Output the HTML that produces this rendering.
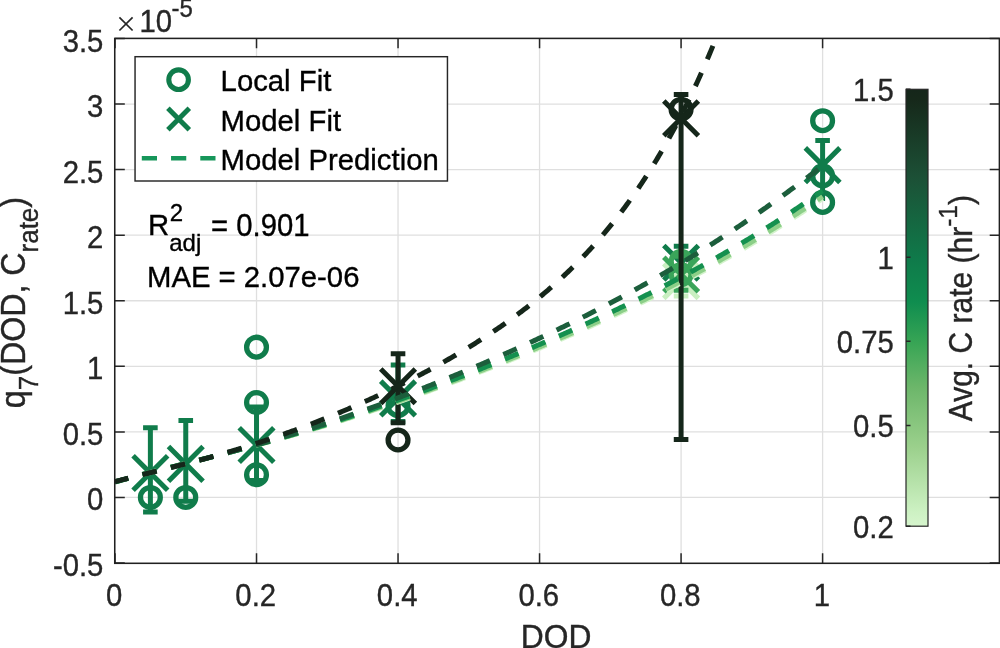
<!DOCTYPE html><html><head><meta charset="utf-8"><style>html,body{margin:0;padding:0;background:#fff;overflow:hidden}svg{display:block;will-change:transform}</style></head><body>
<svg width="1000" height="648" viewBox="0 0 1000 648" style='font-family:"Liberation Sans", sans-serif'>
<rect width="1000" height="648" fill="#fff"/>
<defs><clipPath id="ax"><rect x="115.00" y="38.50" width="884.50" height="524.50"/></clipPath>
<linearGradient id="cm" x1="0" y1="89.3" x2="0" y2="526.2" gradientUnits="userSpaceOnUse">
<stop offset="0.0016" stop-color="#15261a"/>
<stop offset="0.0222" stop-color="#16281a"/>
<stop offset="0.2007" stop-color="#1c5036"/>
<stop offset="0.3884" stop-color="#0f7a4a"/>
<stop offset="0.4868" stop-color="#0f8d4f"/>
<stop offset="0.5807" stop-color="#38a555"/>
<stop offset="0.6814" stop-color="#6cb66a"/>
<stop offset="0.8187" stop-color="#9bd08c"/>
<stop offset="0.9675" stop-color="#cdf1c3"/>
<stop offset="0.9995" stop-color="#d6f5cd"/>
</linearGradient></defs>
<path d="M256.52 38.50V563.00M398.04 38.50V563.00M539.56 38.50V563.00M681.08 38.50V563.00M822.60 38.50V563.00M115.00 497.44H999.50M115.00 431.88H999.50M115.00 366.31H999.50M115.00 300.75H999.50M115.00 235.19H999.50M115.00 169.62H999.50M115.00 104.06H999.50" stroke="#dfdfdf" stroke-width="1.3" fill="none"/>
<g clip-path="url(#ax)">
<path d="M150.38 427.81V511.99M143.08 511.99h14.6M143.08 427.81h14.6" stroke="#107c4b" stroke-width="5.0" fill="none"/>
<circle cx="150.38" cy="497.44" r="9.90" stroke="#107c4b" stroke-width="5.3" fill="none"/>
<path d="M133.08 455.75l34.6 34.6M133.08 490.35l34.6 -34.6" stroke="#107c4b" stroke-width="5.0" fill="none"/>
<path d="M185.76 420.47V501.37M178.46 501.37h14.6M178.46 420.47h14.6" stroke="#107c4b" stroke-width="5.0" fill="none"/>
<circle cx="185.76" cy="497.44" r="9.90" stroke="#107c4b" stroke-width="5.3" fill="none"/>
<path d="M168.46 446.57l34.6 34.6M168.46 481.17l34.6 -34.6" stroke="#107c4b" stroke-width="5.0" fill="none"/>
<path d="M256.52 406.96V480.52M249.22 480.52h14.6M249.22 406.96h14.6" stroke="#107c4b" stroke-width="5.0" fill="none"/>
<circle cx="256.52" cy="347.17" r="9.90" stroke="#107c4b" stroke-width="5.3" fill="none"/>
<circle cx="256.52" cy="402.50" r="9.90" stroke="#107c4b" stroke-width="5.3" fill="none"/>
<circle cx="256.52" cy="474.75" r="9.90" stroke="#107c4b" stroke-width="5.3" fill="none"/>
<path d="M239.22 427.69l34.6 34.6M239.22 462.29l34.6 -34.6" stroke="#107c4b" stroke-width="5.0" fill="none"/>
<path d="M398.04 365.00V421.38M390.74 421.38h14.6M390.74 365.00h14.6" stroke="#107c4b" stroke-width="5.0" fill="none"/>
<circle cx="398.04" cy="405.65" r="9.90" stroke="#107c4b" stroke-width="5.3" fill="none"/>
<path d="M380.74 381.14l34.6 34.6M380.74 415.74l34.6 -34.6" stroke="#107c4b" stroke-width="5.0" fill="none"/>
<path d="M822.60 140.38V201.10M815.30 140.38h14.6" stroke="#107c4b" stroke-width="5.0" fill="none"/>
<circle cx="822.60" cy="120.72" r="9.90" stroke="#107c4b" stroke-width="5.3" fill="none"/>
<circle cx="822.60" cy="175.92" r="9.90" stroke="#107c4b" stroke-width="5.3" fill="none"/>
<circle cx="822.60" cy="202.41" r="9.90" stroke="#107c4b" stroke-width="5.3" fill="none"/>
<path d="M805.30 147.87l34.6 34.6M805.30 182.47l34.6 -34.6" stroke="#107c4b" stroke-width="5.0" fill="none"/>
<path d="M681.08 266.66V296.03M673.78 296.03h14.6M673.78 266.66h14.6" stroke="#c9efc1" stroke-width="5.0" fill="none"/>
<path d="M663.78 263.78l34.6 34.6M663.78 298.38l34.6 -34.6" stroke="#c9efc1" stroke-width="5.0" fill="none"/>
<path d="M681.08 246.33V281.08M673.78 246.33h14.6" stroke="#107c4b" stroke-width="5.0" fill="none"/>
<path d="M663.78 245.42l34.6 34.6M663.78 280.02l34.6 -34.6" stroke="#107c4b" stroke-width="5.0" fill="none"/>
<path d="M681.08 256.17V290.26M673.78 290.26h14.6M673.78 256.17h14.6" stroke="#3aa55a" stroke-width="5.0" fill="none"/>
<circle cx="681.08" cy="261.41" r="9.90" stroke="#3aa55a" stroke-width="5.3" fill="none"/>
<circle cx="681.08" cy="274.52" r="9.90" stroke="#3aa55a" stroke-width="5.3" fill="none"/>
<path d="M663.78 257.22l34.6 34.6M663.78 291.82l34.6 -34.6" stroke="#3aa55a" stroke-width="5.0" fill="none"/>
<path d="M398.04 353.72V422.83M390.74 422.83h14.6M390.74 353.72h14.6" stroke="#15261a" stroke-width="5.0" fill="none"/>
<circle cx="398.04" cy="440.00" r="9.90" stroke="#15261a" stroke-width="5.3" fill="none"/>
<path d="M380.74 368.94l34.6 34.6M380.74 403.54l34.6 -34.6" stroke="#15261a" stroke-width="5.0" fill="none"/>
<path d="M681.08 94.62V439.61M673.78 439.61h14.6M673.78 94.62h14.6" stroke="#15261a" stroke-width="5.0" fill="none"/>
<circle cx="681.08" cy="109.18" r="9.90" stroke="#15261a" stroke-width="5.3" fill="none"/>
<path d="M663.78 101.06l34.6 34.6M663.78 135.66l34.6 -34.6" stroke="#15261a" stroke-width="5.0" fill="none"/>
<path d="M115.00 481.92 116.42 481.53 117.84 481.13 119.25 480.74 120.67 480.35 122.09 479.96 123.51 479.57 124.93 479.19 126.34 478.80 127.76 478.42 129.18 478.04 130.60 477.66 132.02 477.28 133.43 476.90 134.85 476.52 136.27 476.15 137.69 475.78 139.11 475.40 140.52 475.03 141.94 474.66 143.36 474.29 144.78 473.92 146.20 473.56 147.61 473.19 149.03 472.82 150.45 472.46 151.87 472.09 153.29 471.73 154.71 471.37 156.12 471.00 157.54 470.64 158.96 470.28 160.38 469.92 161.80 469.56 163.21 469.20 164.63 468.84 166.05 468.48 167.47 468.12 168.89 467.76 170.30 467.40 171.72 467.04 173.14 466.68 174.56 466.33 175.98 465.97 177.39 465.61 178.81 465.25 180.23 464.89 181.65 464.54 183.07 464.18 184.48 463.82 185.90 463.46 187.32 463.10 188.74 462.74 190.16 462.39 191.57 462.03 192.99 461.67 194.41 461.31 195.83 460.95 197.25 460.59 198.66 460.23 200.08 459.87 201.50 459.50 202.92 459.14 204.34 458.78 205.75 458.42 207.17 458.06 208.59 457.69 210.01 457.33 211.43 456.96 212.84 456.60 214.26 456.23 215.68 455.87 217.10 455.50 218.52 455.13 219.93 454.76 221.35 454.39 222.77 454.02 224.19 453.65 225.61 453.28 227.02 452.91 228.44 452.54 229.86 452.16 231.28 451.79 232.70 451.41 234.12 451.04 235.53 450.66 236.95 450.28 238.37 449.91 239.79 449.53 241.21 449.15 242.62 448.76 244.04 448.38 245.46 448.00 246.88 447.62 248.30 447.23 249.71 446.84 251.13 446.47 252.55 446.10 253.97 445.73 255.39 445.36 256.80 444.98 258.22 444.61 259.64 444.23 261.06 443.86 262.48 443.48 263.89 443.10 265.31 442.72 266.73 442.34 268.15 441.96 269.57 441.58 270.98 441.19 272.40 440.81 273.82 440.42 275.24 440.03 276.66 439.64 278.07 439.25 279.49 438.86 280.91 438.47 282.33 438.08 283.75 437.68 285.16 437.29 286.58 436.89 288.00 436.49 289.42 436.10 290.84 435.70 292.25 435.29 293.67 434.89 295.09 434.49 296.51 434.08 297.93 433.68 299.34 433.27 300.76 432.86 302.18 432.45 303.60 432.04 305.02 431.63 306.43 431.22 307.85 430.80 309.27 430.39 310.69 429.97 312.11 429.55 313.53 429.13 314.94 428.71 316.36 428.29 317.78 427.87 319.20 427.45 320.62 427.02 322.03 426.60 323.45 426.17 324.87 425.74 326.29 425.31 327.71 424.88 329.12 424.45 330.54 424.01 331.96 423.58 333.38 423.14 334.80 422.70 336.21 422.27 337.63 421.83 339.05 421.39 340.47 420.94 341.89 420.50 343.30 420.06 344.72 419.61 346.14 419.16 347.56 418.72 348.98 418.27 350.39 417.82 351.81 417.37 353.23 416.91 354.65 416.46 356.07 416.00 357.48 415.55 358.90 415.09 360.32 414.63 361.74 414.17 363.16 413.71 364.57 413.25 365.99 412.79 367.41 412.32 368.83 411.86 370.25 411.39 371.66 410.92 373.08 410.45 374.50 409.98 375.92 409.51 377.34 409.04 378.75 408.57 380.17 408.09 381.59 407.62 383.01 407.14 384.43 406.66 385.84 406.18 387.26 405.70 388.68 405.22 390.10 404.74 391.52 404.25 392.94 403.77 394.35 403.28 395.77 402.79 397.19 402.31 398.61 401.82 400.03 401.33 401.44 400.84 402.86 400.34 404.28 399.85 405.70 399.35 407.12 398.86 408.53 398.36 409.95 397.86 411.37 397.36 412.79 396.86 414.21 396.36 415.62 395.86 417.04 395.36 418.46 394.85 419.88 394.35 421.30 393.84 422.71 393.33 424.13 392.82 425.55 392.31 426.97 391.80 428.39 391.29 429.80 390.78 431.22 390.27 432.64 389.75 434.06 389.24 435.48 388.73 436.89 388.21 438.31 387.69 439.73 387.18 441.15 386.66 442.57 386.14 443.98 385.62 445.40 385.10 446.82 384.57 448.24 384.05 449.66 383.52 451.07 383.00 452.49 382.47 453.91 381.94 455.33 381.42 456.75 380.89 458.16 380.35 459.58 379.82 461.00 379.29 462.42 378.76 463.84 378.22 465.25 377.69 466.67 377.15 468.09 376.61 469.51 376.07 470.93 375.53 472.35 374.99 473.76 374.45 475.18 373.91 476.60 373.36 478.02 372.82 479.44 372.27 480.85 371.72 482.27 371.18 483.69 370.63 485.11 370.08 486.53 369.53 487.94 368.97 489.36 368.42 490.78 367.87 492.20 367.31 493.62 366.76 495.03 366.20 496.45 365.64 497.87 365.08 499.29 364.52 500.71 363.96 502.12 363.40 503.54 362.84 504.96 362.27 506.38 361.71 507.80 361.14 509.21 360.58 510.63 360.01 512.05 359.44 513.47 358.87 514.89 358.30 516.30 357.73 517.72 357.15 519.14 356.58 520.56 356.00 521.98 355.43 523.39 354.85 524.81 354.27 526.23 353.69 527.65 353.11 529.07 352.53 530.48 351.95 531.90 351.36 533.32 350.78 534.74 350.19 536.16 349.61 537.57 349.02 538.99 348.43 540.41 347.84 541.83 347.25 543.25 346.66 544.66 346.06 546.08 345.47 547.50 344.87 548.92 344.28 550.34 343.68 551.76 343.08 553.17 342.48 554.59 341.88 556.01 341.28 557.43 340.67 558.85 340.07 560.26 339.46 561.68 338.86 563.10 338.25 564.52 337.64 565.94 337.03 567.35 336.42 568.77 335.81 570.19 335.19 571.61 334.58 573.03 333.96 574.44 333.34 575.86 332.73 577.28 332.11 578.70 331.48 580.12 330.86 581.53 330.24 582.95 329.61 584.37 328.99 585.79 328.36 587.21 327.73 588.62 327.10 590.04 326.47 591.46 325.84 592.88 325.21 594.30 324.57 595.71 323.94 597.13 323.30 598.55 322.66 599.97 322.02 601.39 321.38 602.80 320.73 604.22 320.09 605.64 319.44 607.06 318.80 608.48 318.15 609.89 317.50 611.31 316.85 612.73 316.20 614.15 315.54 615.57 314.89 616.98 314.23 618.40 313.57 619.82 312.91 621.24 312.25 622.66 311.59 624.07 310.92 625.49 310.26 626.91 309.59 628.33 308.92 629.75 308.25 631.17 307.58 632.58 306.91 634.00 306.23 635.42 305.56 636.84 304.88 638.26 304.20 639.67 303.52 641.09 302.84 642.51 302.15 643.93 301.47 645.35 300.78 646.76 300.09 648.18 299.40 649.60 298.71 651.02 298.01 652.44 297.32 653.85 296.62 655.27 295.92 656.69 295.22 658.11 294.52 659.53 293.81 660.94 293.11 662.36 292.40 663.78 291.69 665.20 290.98 666.62 290.26 668.03 289.55 669.45 288.83 670.87 288.11 672.29 287.39 673.71 286.67 675.12 285.95 676.54 285.22 677.96 284.49 679.38 283.76 680.80 283.03 682.21 282.30 683.63 281.56 685.05 280.83 686.47 280.09 687.89 279.34 689.30 278.60 690.72 277.86 692.14 277.11 693.56 276.36 694.98 275.61 696.39 274.86 697.81 274.10 699.23 273.34 700.65 272.58 702.07 271.82 703.48 271.06 704.90 270.29 706.32 269.53 707.74 268.76 709.16 267.98 710.58 267.21 711.99 266.43 713.41 265.66 714.83 264.88 716.25 264.09 717.67 263.31 719.08 262.52 720.50 261.73 721.92 260.94 723.34 260.15 724.76 259.35 726.17 258.55 727.59 257.75 729.01 256.95 730.43 256.15 731.85 255.34 733.26 254.53 734.68 253.72 736.10 252.90 737.52 252.09 738.94 251.27 740.35 250.45 741.77 249.62 743.19 248.80 744.61 247.97 746.03 247.14 747.44 246.31 748.86 245.47 750.28 244.63 751.70 243.79 753.12 242.95 754.53 242.10 755.95 241.26 757.37 240.41 758.79 239.55 760.21 238.70 761.62 237.84 763.04 236.98 764.46 236.12 765.88 235.25 767.30 234.39 768.71 233.52 770.13 232.64 771.55 231.77 772.97 230.89 774.39 230.01 775.80 229.13 777.22 228.24 778.64 227.36 780.06 226.47 781.48 225.57 782.89 224.68 784.31 223.78 785.73 222.88 787.15 221.97 788.57 221.07 789.99 220.16 791.40 219.25 792.82 218.33 794.24 217.42 795.66 216.50 797.08 215.58 798.49 214.65 799.91 213.73 801.33 212.80 802.75 211.86 804.17 210.93 805.58 209.99 807.00 209.05 808.42 208.11 809.84 207.16 811.26 206.21 812.67 205.26 814.09 204.31 815.51 203.35 816.93 202.39 818.35 201.43 819.76 200.46 821.18 199.50 822.60 198.53" stroke="#d3f3cb" stroke-width="5.0" fill="none" stroke-dasharray="14.6 14.7" stroke-dashoffset="0.9"/>
<path d="M115.00 481.92 116.42 481.53 117.84 481.13 119.25 480.74 120.67 480.35 122.09 479.96 123.51 479.57 124.93 479.19 126.34 478.80 127.76 478.42 129.18 478.04 130.60 477.66 132.02 477.28 133.43 476.90 134.85 476.52 136.27 476.15 137.69 475.78 139.11 475.40 140.52 475.03 141.94 474.66 143.36 474.29 144.78 473.92 146.20 473.56 147.61 473.19 149.03 472.82 150.45 472.46 151.87 472.09 153.29 471.73 154.71 471.37 156.12 471.00 157.54 470.64 158.96 470.28 160.38 469.92 161.80 469.56 163.21 469.20 164.63 468.84 166.05 468.48 167.47 468.12 168.89 467.76 170.30 467.40 171.72 467.04 173.14 466.68 174.56 466.33 175.98 465.97 177.39 465.61 178.81 465.25 180.23 464.89 181.65 464.54 183.07 464.18 184.48 463.82 185.90 463.46 187.32 463.10 188.74 462.74 190.16 462.39 191.57 462.03 192.99 461.67 194.41 461.31 195.83 460.95 197.25 460.59 198.66 460.23 200.08 459.87 201.50 459.50 202.92 459.14 204.34 458.78 205.75 458.42 207.17 458.06 208.59 457.69 210.01 457.33 211.43 456.96 212.84 456.60 214.26 456.23 215.68 455.87 217.10 455.50 218.52 455.13 219.93 454.76 221.35 454.39 222.77 454.02 224.19 453.65 225.61 453.28 227.02 452.91 228.44 452.54 229.86 452.16 231.28 451.79 232.70 451.41 234.12 451.04 235.53 450.66 236.95 450.28 238.37 449.91 239.79 449.53 241.21 449.15 242.62 448.76 244.04 448.38 245.46 448.00 246.88 447.62 248.30 447.23 249.71 446.84 251.13 446.47 252.55 446.09 253.97 445.71 255.39 445.33 256.80 444.95 258.22 444.57 259.64 444.19 261.06 443.80 262.48 443.42 263.89 443.03 265.31 442.64 266.73 442.26 268.15 441.87 269.57 441.48 270.98 441.09 272.40 440.69 273.82 440.30 275.24 439.91 276.66 439.51 278.07 439.11 279.49 438.72 280.91 438.32 282.33 437.92 283.75 437.52 285.16 437.11 286.58 436.71 288.00 436.30 289.42 435.90 290.84 435.49 292.25 435.08 293.67 434.67 295.09 434.26 296.51 433.85 297.93 433.44 299.34 433.02 300.76 432.61 302.18 432.19 303.60 431.77 305.02 431.36 306.43 430.94 307.85 430.51 309.27 430.09 310.69 429.67 312.11 429.24 313.53 428.82 314.94 428.39 316.36 427.96 317.78 427.53 319.20 427.10 320.62 426.67 322.03 426.24 323.45 425.80 324.87 425.36 326.29 424.93 327.71 424.49 329.12 424.05 330.54 423.61 331.96 423.17 333.38 422.73 334.80 422.28 336.21 421.84 337.63 421.39 339.05 420.94 340.47 420.49 341.89 420.04 343.30 419.59 344.72 419.14 346.14 418.68 347.56 418.23 348.98 417.77 350.39 417.32 351.81 416.86 353.23 416.40 354.65 415.94 356.07 415.47 357.48 415.01 358.90 414.55 360.32 414.08 361.74 413.61 363.16 413.15 364.57 412.68 365.99 412.21 367.41 411.74 368.83 411.26 370.25 410.79 371.66 410.31 373.08 409.84 374.50 409.36 375.92 408.88 377.34 408.40 378.75 407.92 380.17 407.44 381.59 406.96 383.01 406.47 384.43 405.99 385.84 405.50 387.26 405.01 388.68 404.53 390.10 404.04 391.52 403.55 392.94 403.05 394.35 402.56 395.77 402.07 397.19 401.57 398.61 401.07 400.03 400.58 401.44 400.08 402.86 399.58 404.28 399.08 405.70 398.58 407.12 398.07 408.53 397.57 409.95 397.06 411.37 396.56 412.79 396.05 414.21 395.54 415.62 395.03 417.04 394.52 418.46 394.01 419.88 393.50 421.30 392.98 422.71 392.47 424.13 391.95 425.55 391.44 426.97 390.92 428.39 390.40 429.80 389.88 431.22 389.36 432.64 388.85 434.06 388.33 435.48 387.81 436.89 387.29 438.31 386.77 439.73 386.25 441.15 385.72 442.57 385.20 443.98 384.68 445.40 384.15 446.82 383.62 448.24 383.10 449.66 382.57 451.07 382.04 452.49 381.50 453.91 380.97 455.33 380.44 456.75 379.91 458.16 379.37 459.58 378.83 461.00 378.30 462.42 377.76 463.84 377.22 465.25 376.68 466.67 376.14 468.09 375.60 469.51 375.05 470.93 374.51 472.35 373.96 473.76 373.42 475.18 372.87 476.60 372.32 478.02 371.77 479.44 371.22 480.85 370.67 482.27 370.12 483.69 369.57 485.11 369.01 486.53 368.46 487.94 367.90 489.36 367.34 490.78 366.79 492.20 366.23 493.62 365.67 495.03 365.11 496.45 364.54 497.87 363.98 499.29 363.42 500.71 362.85 502.12 362.28 503.54 361.72 504.96 361.15 506.38 360.58 507.80 360.01 509.21 359.44 510.63 358.87 512.05 358.29 513.47 357.72 514.89 357.14 516.30 356.57 517.72 355.99 519.14 355.41 520.56 354.83 521.98 354.25 523.39 353.67 524.81 353.09 526.23 352.50 527.65 351.92 529.07 351.33 530.48 350.75 531.90 350.16 533.32 349.57 534.74 348.98 536.16 348.39 537.57 347.80 538.99 347.20 540.41 346.61 541.83 346.01 543.25 345.42 544.66 344.82 546.08 344.22 547.50 343.62 548.92 343.02 550.34 342.42 551.76 341.82 553.17 341.21 554.59 340.61 556.01 340.00 557.43 339.39 558.85 338.78 560.26 338.17 561.68 337.56 563.10 336.95 564.52 336.34 565.94 335.72 567.35 335.11 568.77 334.49 570.19 333.87 571.61 333.25 573.03 332.63 574.44 332.01 575.86 331.39 577.28 330.76 578.70 330.14 580.12 329.51 581.53 328.88 582.95 328.26 584.37 327.63 585.79 326.99 587.21 326.36 588.62 325.73 590.04 325.09 591.46 324.46 592.88 323.82 594.30 323.18 595.71 322.54 597.13 321.90 598.55 321.25 599.97 320.61 601.39 319.96 602.80 319.32 604.22 318.67 605.64 318.02 607.06 317.37 608.48 316.71 609.89 316.06 611.31 315.40 612.73 314.75 614.15 314.09 615.57 313.43 616.98 312.77 618.40 312.11 619.82 311.44 621.24 310.78 622.66 310.11 624.07 309.44 625.49 308.77 626.91 308.10 628.33 307.43 629.75 306.75 631.17 306.08 632.58 305.40 634.00 304.72 635.42 304.04 636.84 303.36 638.26 302.67 639.67 301.99 641.09 301.30 642.51 300.61 643.93 299.92 645.35 299.23 646.76 298.54 648.18 297.84 649.60 297.15 651.02 296.45 652.44 295.75 653.85 295.05 655.27 294.34 656.69 293.64 658.11 292.93 659.53 292.22 660.94 291.51 662.36 290.80 663.78 290.09 665.20 289.37 666.62 288.65 668.03 287.93 669.45 287.21 670.87 286.49 672.29 285.77 673.71 285.04 675.12 284.31 676.54 283.58 677.96 282.85 679.38 282.11 680.80 281.38 682.21 280.64 683.63 279.90 685.05 279.16 686.47 278.42 687.89 277.67 689.30 276.92 690.72 276.17 692.14 275.42 693.56 274.67 694.98 273.91 696.39 273.16 697.81 272.40 699.23 271.64 700.65 270.87 702.07 270.11 703.48 269.34 704.90 268.57 706.32 267.80 707.74 267.02 709.16 266.25 710.58 265.47 711.99 264.69 713.41 263.91 714.83 263.12 716.25 262.33 717.67 261.55 719.08 260.75 720.50 259.96 721.92 259.17 723.34 258.37 724.76 257.57 726.17 256.76 727.59 255.96 729.01 255.15 730.43 254.34 731.85 253.53 733.26 252.72 734.68 251.90 736.10 251.08 737.52 250.26 738.94 249.44 740.35 248.62 741.77 247.79 743.19 246.96 744.61 246.13 746.03 245.29 747.44 244.45 748.86 243.61 750.28 242.77 751.70 241.93 753.12 241.08 754.53 240.23 755.95 239.38 757.37 238.52 758.79 237.67 760.21 236.81 761.62 235.95 763.04 235.08 764.46 234.22 765.88 233.35 767.30 232.48 768.71 231.60 770.13 230.72 771.55 229.84 772.97 228.96 774.39 228.08 775.80 227.19 777.22 226.30 778.64 225.41 780.06 224.52 781.48 223.62 782.89 222.72 784.31 221.82 785.73 220.91 787.15 220.00 788.57 219.09 789.99 218.18 791.40 217.26 792.82 216.35 794.24 215.43 795.66 214.50 797.08 213.58 798.49 212.65 799.91 211.72 801.33 210.78 802.75 209.84 804.17 208.91 805.58 207.96 807.00 207.02 808.42 206.07 809.84 205.12 811.26 204.17 812.67 203.21 814.09 202.25 815.51 201.29 816.93 200.33 818.35 199.36 819.76 198.39 821.18 197.42 822.60 196.45" stroke="#8ccf88" stroke-width="5.0" fill="none" stroke-dasharray="14.6 14.7" stroke-dashoffset="0.9"/>
<path d="M115.00 481.92 116.42 481.53 117.84 481.13 119.25 480.74 120.67 480.35 122.09 479.96 123.51 479.57 124.93 479.19 126.34 478.80 127.76 478.42 129.18 478.04 130.60 477.66 132.02 477.28 133.43 476.90 134.85 476.52 136.27 476.15 137.69 475.78 139.11 475.40 140.52 475.03 141.94 474.66 143.36 474.29 144.78 473.92 146.20 473.56 147.61 473.19 149.03 472.82 150.45 472.46 151.87 472.09 153.29 471.73 154.71 471.37 156.12 471.00 157.54 470.64 158.96 470.28 160.38 469.92 161.80 469.56 163.21 469.20 164.63 468.84 166.05 468.48 167.47 468.12 168.89 467.76 170.30 467.40 171.72 467.04 173.14 466.68 174.56 466.33 175.98 465.97 177.39 465.61 178.81 465.25 180.23 464.89 181.65 464.54 183.07 464.18 184.48 463.82 185.90 463.46 187.32 463.10 188.74 462.74 190.16 462.39 191.57 462.03 192.99 461.67 194.41 461.31 195.83 460.95 197.25 460.59 198.66 460.23 200.08 459.87 201.50 459.50 202.92 459.14 204.34 458.78 205.75 458.42 207.17 458.06 208.59 457.69 210.01 457.33 211.43 456.96 212.84 456.60 214.26 456.23 215.68 455.87 217.10 455.50 218.52 455.13 219.93 454.76 221.35 454.39 222.77 454.02 224.19 453.65 225.61 453.28 227.02 452.91 228.44 452.54 229.86 452.16 231.28 451.79 232.70 451.41 234.12 451.04 235.53 450.66 236.95 450.28 238.37 449.91 239.79 449.53 241.21 449.15 242.62 448.76 244.04 448.38 245.46 448.00 246.88 447.62 248.30 447.23 249.71 446.84 251.13 446.46 252.55 446.07 253.97 445.68 255.39 445.29 256.80 444.90 258.22 444.51 259.64 444.12 261.06 443.72 262.48 443.33 263.89 442.93 265.31 442.53 266.73 442.14 268.15 441.74 269.57 441.34 270.98 440.93 272.40 440.53 273.82 440.13 275.24 439.72 276.66 439.32 278.07 438.91 279.49 438.50 280.91 438.09 282.33 437.68 283.75 437.27 285.16 436.86 286.58 436.44 288.00 436.03 289.42 435.61 290.84 435.20 292.25 434.78 293.67 434.36 295.09 433.94 296.51 433.52 297.93 433.09 299.34 432.67 300.76 432.24 302.18 431.82 303.60 431.39 305.02 430.96 306.43 430.53 307.85 430.10 309.27 429.66 310.69 429.23 312.11 428.79 313.53 428.36 314.94 427.92 316.36 427.48 317.78 427.04 319.20 426.60 320.62 426.16 322.03 425.71 323.45 425.27 324.87 424.82 326.29 424.38 327.71 423.93 329.12 423.48 330.54 423.03 331.96 422.58 333.38 422.12 334.80 421.67 336.21 421.21 337.63 420.76 339.05 420.30 340.47 419.84 341.89 419.38 343.30 418.92 344.72 418.45 346.14 417.99 347.56 417.52 348.98 417.06 350.39 416.59 351.81 416.12 353.23 415.65 354.65 415.18 356.07 414.71 357.48 414.23 358.90 413.76 360.32 413.28 361.74 412.81 363.16 412.33 364.57 411.85 365.99 411.37 367.41 410.89 368.83 410.40 370.25 409.92 371.66 409.44 373.08 408.95 374.50 408.46 375.92 407.97 377.34 407.48 378.75 406.99 380.17 406.50 381.59 406.01 383.01 405.51 384.43 405.02 385.84 404.52 387.26 404.02 388.68 403.52 390.10 403.02 391.52 402.52 392.94 402.02 394.35 401.52 395.77 401.01 397.19 400.51 398.61 400.00 400.03 399.49 401.44 398.98 402.86 398.47 404.28 397.96 405.70 397.45 407.12 396.94 408.53 396.42 409.95 395.91 411.37 395.39 412.79 394.87 414.21 394.36 415.62 393.84 417.04 393.32 418.46 392.79 419.88 392.27 421.30 391.75 422.71 391.22 424.13 390.70 425.55 390.17 426.97 389.64 428.39 389.11 429.80 388.58 431.22 388.05 432.64 387.52 434.06 386.98 435.48 386.45 436.89 385.91 438.31 385.38 439.73 384.84 441.15 384.30 442.57 383.76 443.98 383.22 445.40 382.68 446.82 382.14 448.24 381.59 449.66 381.05 451.07 380.50 452.49 379.96 453.91 379.41 455.33 378.86 456.75 378.31 458.16 377.76 459.58 377.21 461.00 376.66 462.42 376.10 463.84 375.55 465.25 374.99 466.67 374.44 468.09 373.88 469.51 373.32 470.93 372.76 472.35 372.20 473.76 371.64 475.18 371.07 476.60 370.51 478.02 369.95 479.44 369.38 480.85 368.81 482.27 368.24 483.69 367.68 485.11 367.11 486.53 366.54 487.94 365.96 489.36 365.39 490.78 364.82 492.20 364.24 493.62 363.67 495.03 363.09 496.45 362.51 497.87 361.93 499.29 361.35 500.71 360.77 502.12 360.19 503.54 359.61 504.96 359.02 506.38 358.44 507.80 357.85 509.21 357.27 510.63 356.68 512.05 356.09 513.47 355.50 514.89 354.91 516.30 354.32 517.72 353.72 519.14 353.13 520.56 352.54 521.98 351.94 523.39 351.34 524.81 350.74 526.23 350.14 527.65 349.54 529.07 348.94 530.48 348.34 531.90 347.74 533.32 347.13 534.74 346.53 536.16 345.92 537.57 345.31 538.99 344.70 540.41 344.09 541.83 343.48 543.25 342.87 544.66 342.26 546.08 341.64 547.50 341.03 548.92 340.41 550.34 339.79 551.76 339.18 553.17 338.56 554.59 337.94 556.01 337.31 557.43 336.69 558.85 336.07 560.26 335.44 561.68 334.81 563.10 334.19 564.52 333.56 565.94 332.93 567.35 332.30 568.77 331.66 570.19 331.03 571.61 330.39 573.03 329.76 574.44 329.12 575.86 328.48 577.28 327.84 578.70 327.20 580.12 326.56 581.53 325.92 582.95 325.27 584.37 324.63 585.79 323.98 587.21 323.33 588.62 322.68 590.04 322.03 591.46 321.38 592.88 320.73 594.30 320.07 595.71 319.42 597.13 318.76 598.55 318.10 599.97 317.44 601.39 316.78 602.80 316.11 604.22 315.45 605.64 314.79 607.06 314.12 608.48 313.45 609.89 312.78 611.31 312.11 612.73 311.44 614.15 310.76 615.57 310.09 616.98 309.41 618.40 308.73 619.82 308.05 621.24 307.37 622.66 306.69 624.07 306.01 625.49 305.32 626.91 304.63 628.33 303.95 629.75 303.26 631.17 302.56 632.58 301.87 634.00 301.18 635.42 300.48 636.84 299.78 638.26 299.08 639.67 298.38 641.09 297.68 642.51 296.98 643.93 296.27 645.35 295.56 646.76 294.85 648.18 294.14 649.60 293.43 651.02 292.72 652.44 292.00 653.85 291.28 655.27 290.57 656.69 289.84 658.11 289.12 659.53 288.40 660.94 287.67 662.36 286.94 663.78 286.21 665.20 285.48 666.62 284.75 668.03 284.02 669.45 283.28 670.87 282.54 672.29 281.80 673.71 281.06 675.12 280.31 676.54 279.57 677.96 278.82 679.38 278.07 680.80 277.32 682.21 276.57 683.63 275.81 685.05 275.05 686.47 274.30 687.89 273.53 689.30 272.77 690.72 272.01 692.14 271.24 693.56 270.47 694.98 269.70 696.39 268.93 697.81 268.15 699.23 267.37 700.65 266.59 702.07 265.81 703.48 265.03 704.90 264.24 706.32 263.46 707.74 262.67 709.16 261.88 710.58 261.08 711.99 260.29 713.41 259.49 714.83 258.69 716.25 257.89 717.67 257.08 719.08 256.27 720.50 255.47 721.92 254.65 723.34 253.84 724.76 253.02 726.17 252.21 727.59 251.39 729.01 250.56 730.43 249.74 731.85 248.91 733.26 248.08 734.68 247.25 736.10 246.42 737.52 245.58 738.94 244.74 740.35 243.90 741.77 243.06 743.19 242.21 744.61 241.36 746.03 240.51 747.44 239.66 748.86 238.81 750.28 237.95 751.70 237.09 753.12 236.23 754.53 235.36 755.95 234.49 757.37 233.62 758.79 232.75 760.21 231.88 761.62 231.00 763.04 230.12 764.46 229.24 765.88 228.35 767.30 227.47 768.71 226.58 770.13 225.68 771.55 224.79 772.97 223.89 774.39 222.99 775.80 222.09 777.22 221.18 778.64 220.28 780.06 219.36 781.48 218.45 782.89 217.54 784.31 216.62 785.73 215.70 787.15 214.77 788.57 213.85 789.99 212.92 791.40 211.99 792.82 211.05 794.24 210.12 795.66 209.18 797.08 208.24 798.49 207.29 799.91 206.35 801.33 205.40 802.75 204.44 804.17 203.49 805.58 202.53 807.00 201.57 808.42 200.61 809.84 199.64 811.26 198.67 812.67 197.70 814.09 196.73 815.51 195.75 816.93 194.77 818.35 193.79 819.76 192.81 821.18 191.82 822.60 190.83" stroke="#14904f" stroke-width="5.0" fill="none" stroke-dasharray="14.6 14.7" stroke-dashoffset="0.9"/>
<path d="M115.00 481.85 116.42 481.46 117.84 481.07 119.25 480.68 120.67 480.29 122.09 479.90 123.51 479.52 124.93 479.14 126.34 478.76 127.76 478.38 129.18 478.00 130.60 477.63 132.02 477.25 133.43 476.88 134.85 476.51 136.27 476.14 137.69 475.77 139.11 475.40 140.52 475.04 141.94 474.67 143.36 474.30 144.78 473.94 146.20 473.58 147.61 473.21 149.03 472.85 150.45 472.49 151.87 472.13 153.29 471.77 154.71 471.41 156.12 471.05 157.54 470.69 158.96 470.34 160.38 469.98 161.80 469.62 163.21 469.26 164.63 468.91 166.05 468.55 167.47 468.19 168.89 467.84 170.30 467.48 171.72 467.13 173.14 466.77 174.56 466.41 175.98 466.06 177.39 465.70 178.81 465.34 180.23 464.99 181.65 464.63 183.07 464.27 184.48 463.91 185.90 463.56 187.32 463.20 188.74 462.84 190.16 462.48 191.57 462.12 192.99 461.76 194.41 461.40 195.83 461.04 197.25 460.68 198.66 460.32 200.08 459.95 201.50 459.59 202.92 459.23 204.34 458.86 205.75 458.50 207.17 458.13 208.59 457.76 210.01 457.40 211.43 457.03 212.84 456.66 214.26 456.29 215.68 455.92 217.10 455.55 218.52 455.17 219.93 454.80 221.35 454.42 222.77 454.05 224.19 453.67 225.61 453.30 227.02 452.92 228.44 452.54 229.86 452.16 231.28 451.78 232.70 451.39 234.12 451.01 235.53 450.63 236.95 450.24 238.37 449.85 239.79 449.46 241.21 449.08 242.62 448.69 244.04 448.29 245.46 447.90 246.88 447.51 248.30 447.11 249.71 446.72 251.13 446.32 252.55 445.92 253.97 445.52 255.39 445.12 256.80 444.72 258.22 444.31 259.64 443.91 261.06 443.50 262.48 443.09 263.89 442.69 265.31 442.28 266.73 441.86 268.15 441.45 269.57 441.04 270.98 440.62 272.40 440.21 273.82 439.79 275.24 439.37 276.66 438.95 278.07 438.53 279.49 438.10 280.91 437.68 282.33 437.25 283.75 436.82 285.16 436.39 286.58 435.96 288.00 435.53 289.42 435.10 290.84 434.67 292.25 434.23 293.67 433.79 295.09 433.35 296.51 432.91 297.93 432.47 299.34 432.03 300.76 431.59 302.18 431.14 303.60 430.69 305.02 430.25 306.43 429.80 307.85 429.35 309.27 428.89 310.69 428.44 312.11 427.98 313.53 427.53 314.94 427.07 316.36 426.61 317.78 426.15 319.20 425.69 320.62 425.22 322.03 424.76 323.45 424.29 324.87 423.82 326.29 423.36 327.71 422.88 329.12 422.41 330.54 421.94 331.96 421.46 333.38 420.99 334.80 420.51 336.21 420.03 337.63 419.55 339.05 419.07 340.47 418.59 341.89 418.10 343.30 417.62 344.72 417.13 346.14 416.64 347.56 416.15 348.98 415.66 350.39 415.17 351.81 414.68 353.23 414.18 354.65 413.68 356.07 413.19 357.48 412.69 358.90 412.19 360.32 411.69 361.74 411.18 363.16 410.68 364.57 410.17 365.99 409.67 367.41 409.16 368.83 408.65 370.25 408.14 371.66 407.62 373.08 407.11 374.50 406.60 375.92 406.08 377.34 405.56 378.75 405.04 380.17 404.52 381.59 404.00 383.01 403.48 384.43 402.95 385.84 402.43 387.26 401.90 388.68 401.37 390.10 400.85 391.52 400.32 392.94 399.78 394.35 399.25 395.77 398.72 397.19 398.18 398.61 397.64 400.03 397.11 401.44 396.57 402.86 396.03 404.28 395.49 405.70 394.94 407.12 394.40 408.53 393.85 409.95 393.31 411.37 392.76 412.79 392.21 414.21 391.66 415.62 391.11 417.04 390.55 418.46 390.00 419.88 389.45 421.30 388.89 422.71 388.33 424.13 387.77 425.55 387.21 426.97 386.65 428.39 386.09 429.80 385.52 431.22 384.96 432.64 384.39 434.06 383.83 435.48 383.26 436.89 382.69 438.31 382.12 439.73 381.54 441.15 380.97 442.57 380.40 443.98 379.82 445.40 379.24 446.82 378.66 448.24 378.09 449.66 377.50 451.07 376.92 452.49 376.34 453.91 375.75 455.33 375.17 456.75 374.58 458.16 373.99 459.58 373.41 461.00 372.81 462.42 372.22 463.84 371.63 465.25 371.04 466.67 370.44 468.09 369.84 469.51 369.25 470.93 368.65 472.35 368.05 473.76 367.45 475.18 366.84 476.60 366.24 478.02 365.63 479.44 365.03 480.85 364.42 482.27 363.81 483.69 363.20 485.11 362.59 486.53 361.98 487.94 361.36 489.36 360.75 490.78 360.13 492.20 359.51 493.62 358.89 495.03 358.27 496.45 357.65 497.87 357.03 499.29 356.40 500.71 355.78 502.12 355.15 503.54 354.52 504.96 353.90 506.38 353.26 507.80 352.63 509.21 352.00 510.63 351.36 512.05 350.73 513.47 350.09 514.89 349.45 516.30 348.81 517.72 348.17 519.14 347.53 520.56 346.88 521.98 346.24 523.39 345.59 524.81 344.94 526.23 344.30 527.65 343.64 529.07 342.99 530.48 342.34 531.90 341.68 533.32 341.03 534.74 340.37 536.16 339.71 537.57 339.05 538.99 338.39 540.41 337.72 541.83 337.06 543.25 336.39 544.66 335.72 546.08 335.05 547.50 334.38 548.92 333.71 550.34 333.03 551.76 332.36 553.17 331.68 554.59 331.00 556.01 330.32 557.43 329.64 558.85 328.96 560.26 328.27 561.68 327.59 563.10 326.90 564.52 326.21 565.94 325.52 567.35 324.82 568.77 324.13 570.19 323.43 571.61 322.73 573.03 322.04 574.44 321.33 575.86 320.63 577.28 319.93 578.70 319.22 580.12 318.51 581.53 317.80 582.95 317.09 584.37 316.38 585.79 315.66 587.21 314.95 588.62 314.23 590.04 313.51 591.46 312.79 592.88 312.07 594.30 311.34 595.71 310.61 597.13 309.88 598.55 309.15 599.97 308.42 601.39 307.69 602.80 306.95 604.22 306.21 605.64 305.47 607.06 304.73 608.48 303.99 609.89 303.24 611.31 302.49 612.73 301.74 614.15 300.99 615.57 300.24 616.98 299.48 618.40 298.73 619.82 297.97 621.24 297.21 622.66 296.44 624.07 295.68 625.49 294.91 626.91 294.14 628.33 293.37 629.75 292.60 631.17 291.82 632.58 291.04 634.00 290.26 635.42 289.48 636.84 288.70 638.26 287.91 639.67 287.13 641.09 286.34 642.51 285.54 643.93 284.75 645.35 283.95 646.76 283.15 648.18 282.35 649.60 281.55 651.02 280.74 652.44 279.94 653.85 279.13 655.27 278.32 656.69 277.50 658.11 276.69 659.53 275.87 660.94 275.05 662.36 274.22 663.78 273.40 665.20 272.57 666.62 271.74 668.03 270.91 669.45 270.07 670.87 269.24 672.29 268.40 673.71 267.56 675.12 266.71 676.54 265.87 677.96 265.02 679.38 264.17 680.80 263.31 682.21 262.46 683.63 261.60 685.05 260.74 686.47 259.88 687.89 259.01 689.30 258.15 690.72 257.28 692.14 256.40 693.56 255.53 694.98 254.65 696.39 253.77 697.81 252.89 699.23 252.01 700.65 251.12 702.07 250.23 703.48 249.34 704.90 248.44 706.32 247.55 707.74 246.65 709.16 245.75 710.58 244.84 711.99 243.94 713.41 243.03 714.83 242.12 716.25 241.20 717.67 240.29 719.08 239.37 720.50 238.45 721.92 237.52 723.34 236.60 724.76 235.67 726.17 234.74 727.59 233.80 729.01 232.87 730.43 231.93 731.85 230.99 733.26 230.04 734.68 229.10 736.10 228.15 737.52 227.20 738.94 226.24 740.35 225.29 741.77 224.33 743.19 223.37 744.61 222.40 746.03 221.44 747.44 220.47 748.86 219.50 750.28 218.53 751.70 217.55 753.12 216.57 754.53 215.59 755.95 214.61 757.37 213.63 758.79 212.64 760.21 211.65 761.62 210.66 763.04 209.66 764.46 208.67 765.88 207.67 767.30 206.66 768.71 205.66 770.13 204.66 771.55 203.65 772.97 202.64 774.39 201.62 775.80 200.61 777.22 199.59 778.64 198.57 780.06 197.55 781.48 196.53 782.89 195.50 784.31 194.47 785.73 193.44 787.15 192.41 788.57 191.38 789.99 190.34 791.40 189.30 792.82 188.26 794.24 187.22 795.66 186.17 797.08 185.13 798.49 184.08 799.91 183.03 801.33 181.98 802.75 180.92 804.17 179.87 805.58 178.81 807.00 177.75 808.42 176.69 809.84 175.62 811.26 174.56 812.67 173.49 814.09 172.43 815.51 171.36 816.93 170.28 818.35 169.21 819.76 168.14 821.18 167.06 822.60 165.98" stroke="#1c5e3c" stroke-width="5.0" fill="none" stroke-dasharray="14.6 14.7" stroke-dashoffset="0.9"/>
<path d="M115.00 481.57 116.23 481.26 117.47 480.94 118.70 480.62 119.93 480.31 121.17 479.99 122.40 479.68 123.64 479.37 124.87 479.05 126.10 478.74 127.34 478.43 128.57 478.12 129.80 477.81 131.04 477.50 132.27 477.20 133.51 476.89 134.74 476.58 135.97 476.28 137.21 475.97 138.44 475.66 139.67 475.36 140.91 475.05 142.14 474.75 143.37 474.44 144.61 474.14 145.84 473.83 147.08 473.53 148.31 473.22 149.54 472.92 150.78 472.61 152.01 472.31 153.24 472.00 154.48 471.70 155.71 471.39 156.95 471.09 158.18 470.78 159.41 470.47 160.65 470.17 161.88 469.86 163.11 469.55 164.35 469.24 165.58 468.93 166.82 468.63 168.05 468.32 169.28 468.01 170.52 467.70 171.75 467.38 172.98 467.07 174.22 466.76 175.45 466.45 176.68 466.13 177.92 465.82 179.15 465.50 180.39 465.19 181.62 464.87 182.85 464.55 184.09 464.23 185.32 463.91 186.55 463.59 187.79 463.27 189.02 462.95 190.26 462.62 191.49 462.30 192.72 461.97 193.96 461.65 195.19 461.32 196.42 460.99 197.66 460.66 198.89 460.33 200.12 460.00 201.36 459.66 202.59 459.33 203.83 458.99 205.06 458.66 206.29 458.32 207.53 457.98 208.76 457.64 209.99 457.30 211.23 456.95 212.46 456.61 213.70 456.26 214.93 455.92 216.16 455.57 217.40 455.22 218.63 454.87 219.86 454.51 221.10 454.16 222.33 453.80 223.56 453.45 224.80 453.09 226.03 452.73 227.27 452.37 228.50 452.00 229.73 451.64 230.97 451.28 232.20 450.91 233.43 450.54 234.67 450.17 235.90 449.80 237.14 449.42 238.37 449.05 239.60 448.67 240.84 448.30 242.07 447.92 243.30 447.53 244.54 447.15 245.77 446.77 247.00 446.38 248.24 445.99 249.47 445.61 250.71 445.21 251.94 444.82 253.17 444.43 254.41 444.03 255.64 443.64 256.87 443.24 258.11 442.84 259.34 442.43 260.58 442.03 261.81 441.63 263.04 441.22 264.28 440.81 265.51 440.40 266.74 439.99 267.98 439.57 269.21 439.16 270.45 438.74 271.68 438.32 272.91 437.90 274.15 437.48 275.38 437.05 276.61 436.63 277.85 436.20 279.08 435.77 280.31 435.34 281.55 434.91 282.78 434.47 284.02 434.04 285.25 433.60 286.48 433.16 287.72 432.72 288.95 432.27 290.18 431.83 291.42 431.38 292.65 430.93 293.89 430.48 295.12 430.03 296.35 429.58 297.59 429.12 298.82 428.67 300.05 428.21 301.29 427.75 302.52 427.28 303.75 426.82 304.99 426.35 306.22 425.89 307.46 425.42 308.69 424.95 309.92 424.47 311.16 424.00 312.39 423.52 313.62 423.04 314.86 422.56 316.09 422.08 317.33 421.60 318.56 421.11 319.79 420.62 321.03 420.14 322.26 419.65 323.49 419.15 324.73 418.66 325.96 418.16 327.19 417.66 328.43 417.17 329.66 416.66 330.90 416.16 332.13 415.66 333.36 415.15 334.60 414.64 335.83 414.13 337.06 413.62 338.30 413.10 339.53 412.59 340.77 412.07 342.00 411.55 343.23 411.03 344.47 410.51 345.70 409.98 346.93 409.46 348.17 408.93 349.40 408.40 350.64 407.87 351.87 407.33 353.10 406.80 354.34 406.26 355.57 405.72 356.80 405.18 358.04 404.64 359.27 404.09 360.50 403.54 361.74 403.00 362.97 402.44 364.21 401.89 365.44 401.34 366.67 400.78 367.91 400.22 369.14 399.66 370.37 399.10 371.61 398.54 372.84 397.97 374.08 397.41 375.31 396.84 376.54 396.27 377.78 395.69 379.01 395.12 380.24 394.54 381.48 393.96 382.71 393.38 383.94 392.80 385.18 392.21 386.41 391.63 387.65 391.04 388.88 390.45 390.11 389.85 391.35 389.26 392.58 388.66 393.81 388.06 395.05 387.46 396.28 386.86 397.52 386.25 398.75 385.65 399.98 385.04 401.22 384.43 402.45 383.81 403.68 383.20 404.92 382.58 406.15 381.96 407.38 381.34 408.62 380.71 409.85 380.09 411.09 379.46 412.32 378.83 413.55 378.20 414.79 377.56 416.02 376.92 417.25 376.28 418.49 375.64 419.72 375.00 420.96 374.35 422.19 373.70 423.42 373.05 424.66 372.40 425.89 371.74 427.12 371.08 428.36 370.42 429.59 369.76 430.82 369.09 432.06 368.42 433.29 367.75 434.53 367.08 435.76 366.40 436.99 365.72 438.23 365.04 439.46 364.36 440.69 363.67 441.93 362.98 443.16 362.29 444.40 361.60 445.63 360.90 446.86 360.20 448.10 359.50 449.33 358.79 450.56 358.08 451.80 357.37 453.03 356.66 454.27 355.94 455.50 355.22 456.73 354.50 457.97 353.77 459.20 353.04 460.43 352.31 461.67 351.58 462.90 350.84 464.13 350.10 465.37 349.35 466.60 348.60 467.84 347.85 469.07 347.10 470.30 346.34 471.54 345.58 472.77 344.82 474.00 344.05 475.24 343.28 476.47 342.50 477.71 341.72 478.94 340.94 480.17 340.16 481.41 339.37 482.64 338.57 483.87 337.78 485.11 336.98 486.34 336.17 487.57 335.37 488.81 334.55 490.04 333.74 491.28 332.92 492.51 332.09 493.74 331.27 494.98 330.43 496.21 329.60 497.44 328.76 498.68 327.91 499.91 327.07 501.15 326.21 502.38 325.35 503.61 324.49 504.85 323.63 506.08 322.75 507.31 321.88 508.55 321.00 509.78 320.11 511.01 319.22 512.25 318.33 513.48 317.43 514.72 316.53 515.95 315.62 517.18 314.70 518.42 313.78 519.65 312.86 520.88 311.93 522.12 310.99 523.35 310.05 524.59 309.11 525.82 308.16 527.05 307.20 528.29 306.24 529.52 305.27 530.75 304.30 531.99 303.32 533.22 302.33 534.46 301.34 535.69 300.35 536.92 299.34 538.16 298.33 539.39 297.32 540.62 296.30 541.86 295.27 543.09 294.24 544.32 293.20 545.56 292.15 546.79 291.10 548.03 290.04 549.26 288.97 550.49 287.89 551.73 286.81 552.96 285.73 554.19 284.63 555.43 283.53 556.66 282.42 557.90 281.30 559.13 280.18 560.36 279.05 561.60 277.91 562.83 276.77 564.06 275.61 565.30 274.45 566.53 273.28 567.76 272.10 569.00 270.92 570.23 269.72 571.47 268.52 572.70 267.31 573.93 266.09 575.17 264.87 576.40 263.63 577.63 262.39 578.87 261.13 580.10 259.87 581.34 258.60 582.57 257.32 583.80 256.03 585.04 254.73 586.27 253.42 587.50 252.11 588.74 250.78 589.97 249.44 591.20 248.10 592.44 246.74 593.67 245.37 594.91 244.00 596.14 242.61 597.37 241.21 598.61 239.81 599.84 238.39 601.07 236.96 602.31 235.52 603.54 234.07 604.78 232.61 606.01 231.14 607.24 229.65 608.48 228.16 609.71 226.65 610.94 225.13 612.18 223.61 613.41 222.06 614.65 220.51 615.88 218.95 617.11 217.37 618.35 215.78 619.58 214.18 620.81 212.56 622.05 210.93 623.28 209.29 624.51 207.64 625.75 205.98 626.98 204.30 628.22 202.60 629.45 200.90 630.68 199.18 631.92 197.44 633.15 195.70 634.38 193.93 635.62 192.16 636.85 190.37 638.09 188.56 639.32 186.75 640.55 184.91 641.79 183.06 643.02 181.20 644.25 179.32 645.49 177.43 646.72 175.52 647.95 173.59 649.19 171.65 650.42 169.70 651.66 167.72 652.89 165.73 654.12 163.73 655.36 161.71 656.59 159.67 657.82 157.61 659.06 155.54 660.29 153.45 661.53 151.34 662.76 149.22 663.99 147.08 665.23 144.92 666.46 142.74 667.69 140.54 668.93 138.33 670.16 136.09 671.39 133.84 672.63 131.57 673.86 129.28 675.10 126.97 676.33 124.65 677.56 122.30 678.80 119.93 680.03 117.54 681.26 115.14 682.50 112.71 683.73 110.26 684.97 107.79 686.20 105.30 687.43 102.79 688.67 100.26 689.90 97.71 691.13 95.13 692.37 92.54 693.60 89.92 694.83 87.28 696.07 84.61 697.30 81.93 698.54 79.22 699.77 76.49 701.00 73.73 702.24 70.96 703.47 68.16 704.70 65.33 705.94 62.48 707.17 59.61 708.41 56.71 709.64 53.79 710.87 50.84 712.11 47.87 713.34 44.87 714.57 41.85 715.81 38.80 717.04 35.73 718.28 32.63 719.51 29.50 720.74 26.35 721.98 23.17 723.21 19.96 724.44 16.72 725.68 13.46 726.91 10.17 728.14 6.86 729.38 3.51 730.61 0.14" stroke="#15261a" stroke-width="5.0" fill="none" stroke-dasharray="14.6 14.7" stroke-dashoffset="0.9"/>
</g>
<path d="M115.00 563.00v-9.8M115.00 38.50v9.8M256.52 563.00v-9.8M256.52 38.50v9.8M398.04 563.00v-9.8M398.04 38.50v9.8M539.56 563.00v-9.8M539.56 38.50v9.8M681.08 563.00v-9.8M681.08 38.50v9.8M822.60 563.00v-9.8M822.60 38.50v9.8M115.00 563.00h9.8M999.50 563.00h-9.8M115.00 497.44h9.8M999.50 497.44h-9.8M115.00 431.88h9.8M999.50 431.88h-9.8M115.00 366.31h9.8M999.50 366.31h-9.8M115.00 300.75h9.8M999.50 300.75h-9.8M115.00 235.19h9.8M999.50 235.19h-9.8M115.00 169.62h9.8M999.50 169.62h-9.8M115.00 104.06h9.8M999.50 104.06h-9.8M115.00 38.50h9.8M999.50 38.50h-9.8" stroke="#262626" stroke-width="1.5" fill="none"/>
<rect x="114.75" y="38.4" width="884.65" height="524.9" stroke="#202020" stroke-width="1.55" fill="none"/>
<g transform="matrix(1 0 0 1.080 0 -47.552)"><text x="114.20" y="604.80" font-size="29.3" text-anchor="middle" fill="#262626" stroke="#262626" stroke-width="0.35">0</text></g>
<g transform="matrix(1 0 0 1.080 0 -47.552)"><text x="255.72" y="604.80" font-size="29.3" text-anchor="middle" fill="#262626" stroke="#262626" stroke-width="0.35">0.2</text></g>
<g transform="matrix(1 0 0 1.080 0 -47.552)"><text x="397.24" y="604.80" font-size="29.3" text-anchor="middle" fill="#262626" stroke="#262626" stroke-width="0.35">0.4</text></g>
<g transform="matrix(1 0 0 1.080 0 -47.552)"><text x="538.76" y="604.80" font-size="29.3" text-anchor="middle" fill="#262626" stroke="#262626" stroke-width="0.35">0.6</text></g>
<g transform="matrix(1 0 0 1.080 0 -47.552)"><text x="680.28" y="604.80" font-size="29.3" text-anchor="middle" fill="#262626" stroke="#262626" stroke-width="0.35">0.8</text></g>
<g transform="matrix(1 0 0 1.080 0 -47.552)"><text x="821.80" y="604.80" font-size="29.3" text-anchor="middle" fill="#262626" stroke="#262626" stroke-width="0.35">1</text></g>
<g transform="matrix(1 0 0 1.080 0 -45.184)"><text x="103.40" y="575.20" font-size="29.3" text-anchor="end" fill="#262626" stroke="#262626" stroke-width="0.35">-0.5</text></g>
<g transform="matrix(1 0 0 1.080 0 -39.939)"><text x="103.40" y="509.64" font-size="29.3" text-anchor="end" fill="#262626" stroke="#262626" stroke-width="0.35">0</text></g>
<g transform="matrix(1 0 0 1.080 0 -34.694)"><text x="103.40" y="444.07" font-size="29.3" text-anchor="end" fill="#262626" stroke="#262626" stroke-width="0.35">0.5</text></g>
<g transform="matrix(1 0 0 1.080 0 -29.449)"><text x="103.40" y="378.51" font-size="29.3" text-anchor="end" fill="#262626" stroke="#262626" stroke-width="0.35">1</text></g>
<g transform="matrix(1 0 0 1.080 0 -24.204)"><text x="103.40" y="312.95" font-size="29.3" text-anchor="end" fill="#262626" stroke="#262626" stroke-width="0.35">1.5</text></g>
<g transform="matrix(1 0 0 1.080 0 -18.959)"><text x="103.40" y="247.39" font-size="29.3" text-anchor="end" fill="#262626" stroke="#262626" stroke-width="0.35">2</text></g>
<g transform="matrix(1 0 0 1.080 0 -13.714)"><text x="103.40" y="181.82" font-size="29.3" text-anchor="end" fill="#262626" stroke="#262626" stroke-width="0.35">2.5</text></g>
<g transform="matrix(1 0 0 1.080 0 -8.469)"><text x="103.40" y="116.26" font-size="29.3" text-anchor="end" fill="#262626" stroke="#262626" stroke-width="0.35">3</text></g>
<g transform="matrix(1 0 0 1.080 0 -3.224)"><text x="103.40" y="50.70" font-size="29.3" text-anchor="end" fill="#262626" stroke="#262626" stroke-width="0.35">3.5</text></g>
<path d="M119.4 17.3L132.6 30.5M119.4 30.5L132.6 17.3" stroke="#262626" stroke-width="1.7"/>
<g transform="matrix(1 0 0 1.080 0 -1.648)"><text x="139.50" y="31.00" font-size="29.3" fill="#262626" stroke="#262626" stroke-width="0.35">10</text></g>
<g transform="matrix(1 0 0 1.080 0 -0.662)"><text x="171.40" y="16.80" font-size="24.0" fill="#262626" stroke="#262626" stroke-width="0.35">-5</text></g>
<g transform="matrix(1 0 0 1.020 0 -12.734)"><text x="556.20" y="648.00" font-size="31.8" text-anchor="middle" fill="#262626" stroke="#262626" stroke-width="0.35">DOD</text></g>
<g transform="translate(24.00,408.20) rotate(-90) matrix(1 0 0 1.080 0 0.914)"><text x="0" y="0" font-size="32.2" fill="#262626" stroke="#262626" stroke-width="0.35">q<tspan font-size="26" dy="12">7</tspan><tspan dy="-12">(DOD, C</tspan><tspan font-size="26" dy="12">rate</tspan><tspan dy="-12">)</tspan></text></g>
<rect x="906.0" y="89.3" width="22.0" height="436.9" fill="url(#cm)" stroke="#262626" stroke-width="1.2"/>
<path d="M906.0 526.20h4.5M906.0 425.38h4.5M906.0 341.36h4.5M906.0 257.34h4.5M906.0 89.30h4.5" stroke="#262626" stroke-width="1.5"/>
<g transform="matrix(1 0 0 1.080 0 -42.168)"><text x="893.80" y="537.50" font-size="29.3" text-anchor="end" fill="#262626" stroke="#262626" stroke-width="0.35">0.2</text></g>
<g transform="matrix(1 0 0 1.080 0 -34.102)"><text x="893.80" y="436.68" font-size="29.3" text-anchor="end" fill="#262626" stroke="#262626" stroke-width="0.35">0.5</text></g>
<g transform="matrix(1 0 0 1.080 0 -27.380)"><text x="893.80" y="352.66" font-size="29.3" text-anchor="end" fill="#262626" stroke="#262626" stroke-width="0.35">0.75</text></g>
<g transform="matrix(1 0 0 1.080 0 -20.659)"><text x="893.80" y="268.64" font-size="29.3" text-anchor="end" fill="#262626" stroke="#262626" stroke-width="0.35">1</text></g>
<g transform="matrix(1 0 0 1.080 0 -7.216)"><text x="893.80" y="100.60" font-size="29.3" text-anchor="end" fill="#262626" stroke="#262626" stroke-width="0.35">1.5</text></g>
<g transform="translate(971.50,421.30) rotate(-90) matrix(1 0 0 1.080 0 0.852)"><text x="0" y="0" font-size="30.0" fill="#262626" stroke="#262626" stroke-width="0.35">Avg. C rate (hr<tspan font-size="24.5" dy="-13.8">-1</tspan><tspan dy="13.8">)</tspan></text></g>
<rect x="135.05" y="56.7" width="312.4" height="124.3" fill="#fff" stroke="#262626" stroke-width="1.45"/>
<circle cx="178.6" cy="79.7" r="9.8" stroke="#107c4b" stroke-width="5.1" fill="none"/>
<path d="M167.9 108.3l21.4 21.4M167.9 129.7l21.4 -21.4" stroke="#107c4b" stroke-width="5" fill="none"/>
<path d="M141.8 158.3H215.5" stroke="#16965a" stroke-width="4.6" stroke-dasharray="15.2 14.05" fill="none"/>
<g transform="matrix(1 0 0 1.020 0 -1.610)"><text x="220.60" y="90.90" font-size="29.3" fill="#000" stroke="#000" stroke-width="0.35">Local Fit</text></g>
<g transform="matrix(1 0 0 1.020 0 -2.400)"><text x="220.60" y="130.40" font-size="29.3" fill="#000" stroke="#000" stroke-width="0.35">Model Fit</text></g>
<g transform="matrix(1 0 0 1.020 0 -3.190)"><text x="220.60" y="169.90" font-size="29.3" fill="#000" stroke="#000" stroke-width="0.35">Model Prediction</text></g>
<g transform="matrix(1 0 0 1.020 0 -4.492)"><text x="148.00" y="235.00" font-size="29.3" fill="#000" stroke="#000" stroke-width="0.35">R</text></g>
<g transform="matrix(1 0 0 1.000 0 0.000)"><text x="169.70" y="221.30" font-size="24.0" fill="#000" stroke="#000" stroke-width="0.35">2</text></g>
<g transform="matrix(1 0 0 1.020 0 -4.840)"><text x="169.20" y="250.50" font-size="24.0" fill="#000" stroke="#000" stroke-width="0.35">adj</text></g>
<g transform="matrix(1 0 0 1.080 0 -17.968)"><text x="211.00" y="235.00" font-size="29.3" fill="#000" stroke="#000" stroke-width="0.35">= 0.901</text></g>
<g transform="matrix(1 0 0 1.020 0 -5.526)"><text x="147.00" y="286.70" font-size="29.3" fill="#000" stroke="#000" stroke-width="0.35">MAE = 2.07e-06</text></g>
</svg></body></html>
